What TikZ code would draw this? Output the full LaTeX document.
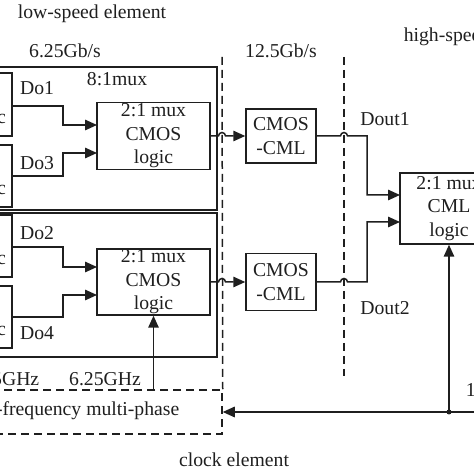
\documentclass[tikz,border=0pt]{standalone}
\usepackage{fontspec}
\setmainfont{Liberation Serif}
\usetikzlibrary{arrows.meta}
\begin{document}
\begin{tikzpicture}[x=1pt,y=1pt,
  line width=1.5pt, color=black!88,
  every node/.style={inner sep=0pt, font=\fontsize{19.7}{23.5}\selectfont, text=black!88},
  box/.style={draw, line width=1.5pt, align=center},
  arr/.style={-{Triangle[length=12pt,width=10.5pt]}},
  dsh/.style={dash pattern=on 8pt off 5pt, line width=1.5pt}]
\useasboundingbox (0,0) rectangle (474,474);
\clip (0,0) rectangle (474,474);

% titles
\node (ls) at (92,460) {low-speed element};
\node (r1) at (65,423) {6.25Gb/s};
\node (r2) at (281,423) {12.5Gb/s};
\node[anchor=west] (hs) at (403,437) {high-speed element};
\node (ce) at (234,14) {clock element};

% outer 4:1 groups
\node[box, minimum width=232pt, minimum height=143pt] (gA) at (101,335.5) {};
\node[box, minimum width=232pt, minimum height=144pt] (gB) at (101,189) {};
\node (m81) at (117,395) {8:1mux};

% left (cut) boxes
\node[box, minimum width=40pt, minimum height=63pt] (L1) at (-8,369.5) {};
\node[box, minimum width=40pt, minimum height=62pt] (L3) at (-8,298) {};
\node[box, minimum width=40pt, minimum height=62pt] (L2) at (-8,228) {};
\node[box, minimum width=40pt, minimum height=62pt] (L4) at (-8,157) {};
\node[anchor=base east] (t1) at (6.5,350) {logic};
\node[anchor=base east] (t3) at (6.5,279) {logic};
\node[anchor=base east] (t2) at (6.5,209) {logic};
\node[anchor=base east] (t4) at (6.5,138) {logic};

% 2:1 CMOS muxes
\node[box, minimum width=113pt, minimum height=67pt] (muxA) at (153.5,338) {2:1 mux\\CMOS\\logic};
\node[box, minimum width=113pt, minimum height=66pt] (muxB) at (153.5,192) {2:1 mux\\CMOS\\logic};

% CMOS-CML converters
\node[box, minimum width=70pt, minimum height=54pt, font=\fontsize{19.7}{24}\selectfont] (ccA) at (281,338) {CMOS\\-CML};
\node[box, minimum width=70pt, minimum height=57pt, font=\fontsize{19.7}{24}\selectfont] (ccB) at (281,192) {CMOS\\-CML};

% CML mux
\node[box, minimum width=98pt, minimum height=71pt] (cml) at (449,265.5) {2:1 mux\\CML\\logic};

% clock box
\node[draw, dsh, minimum width=227pt, minimum height=44pt] (clk) at (108.5,62) {};
\node[anchor=east] (ct) at (180,63) {half-frequency multi-phase};

% data labels
\node (d1) at (37,386) {Do1};
\node (d3) at (37,311) {Do3};
\node (d2) at (37,241) {Do2};
\node (d4) at (37,141) {Do4};
\node (o1) at (385,355) {Dout1};
\node (o2) at (385,166) {Dout2};
\node[anchor=east] (f1) at (40,95) {3.125GHz};
\node (f2) at (105,95) {6.25GHz};
\node[anchor=west] (f3) at (465,84) {12.5GHz};

% dashed boundaries
\coordinate (dA) at (222,417);
\coordinate (dB) at (344,417);
\coordinate (dBe) at (344,98);
\draw[dsh] (dA) -- (clk.north east);
\draw[dsh] (dB) -- (dBe);

% inputs to CMOS muxes
\coordinate (e1) at (97,349);
\coordinate (e3) at (97,321);
\coordinate (e2) at (97,207);
\coordinate (e4) at (97,179);
\draw[arr] (L1.east |- 0,368) -- (63,368) |- (e1);
\draw[arr] (L3.east |- 0,298) -- (63,298) |- (e3);
\draw[arr] (L2.east |- 0,227) -- (63,227) |- (e2);
\draw[arr] (L4.east |- 0,157) -- (63,157) |- (e4);

% mux -> converter with hop
\draw[arr] (muxA.east) -- (218.5,338) arc[start angle=180,end angle=0,radius=3.5] -- (ccA.west);
\draw[arr] (muxB.east) -- (218.5,192) arc[start angle=180,end angle=0,radius=3.5] -- (ccB.west);

% converter -> CML mux
\coordinate (in1) at (400,279);
\coordinate (in2) at (400,252);
\draw[arr] (ccA.east) -- (340.5,338) arc[start angle=180,end angle=0,radius=3.5] -- (367,338) |- (in1);
\draw[arr] (ccB.east) -- (340.5,192) arc[start angle=180,end angle=0,radius=3.5] -- (367,192) |- (in2);

% clocks
\draw[arr] (muxB.south |- clk.north) -- (muxB.south);
\coordinate (fb) at (449,62);
\coordinate (fin) at (480,62);
\draw[arr] (fin) -- (clk.east);
\fill (fb) circle (2.5);
\draw[arr] (fb) -- (cml.south);
\end{tikzpicture}
\end{document}
